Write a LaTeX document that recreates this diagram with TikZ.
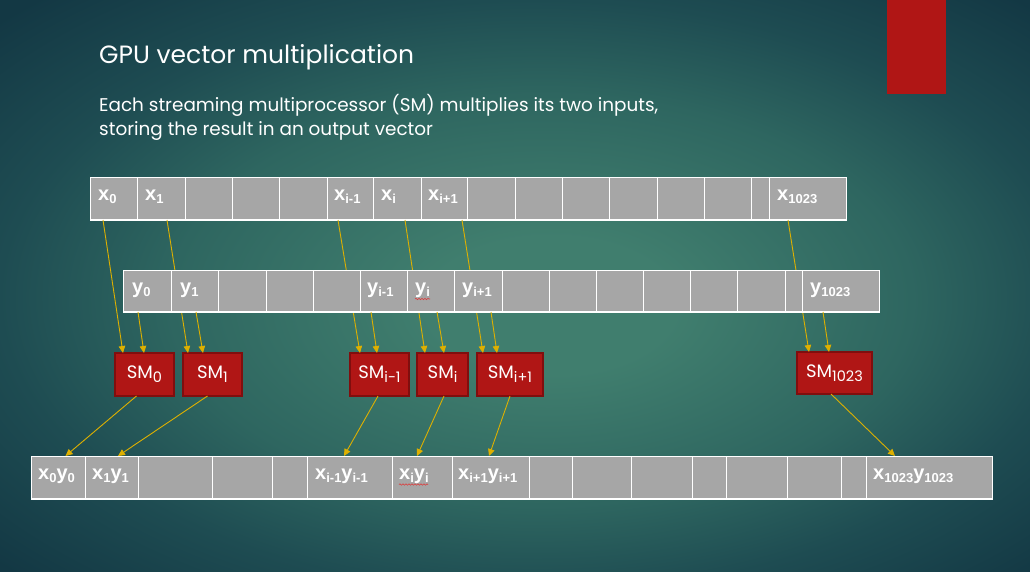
\documentclass[tikz,border=0pt]{standalone}
\usepackage{fontspec}
\setmainfont{Liberation Sans}
\newfontfamily\gothic{Poppins}
\usetikzlibrary{arrows.meta,calc,decorations.pathmorphing}

\definecolor{bgin}{RGB}{64,126,110}
\definecolor{bgmid}{RGB}{46,102,96}
\definecolor{bgedge}{RGB}{30,76,82}
\definecolor{bgout}{RGB}{19,56,68}
\definecolor{cellgray}{RGB}{166,166,166}
\definecolor{smred}{RGB}{176,22,21}
\definecolor{smborder}{RGB}{128,14,14}
\definecolor{arrowyellow}{RGB}{222,176,0}
\definecolor{spellred}{RGB}{220,60,60}

\pgfdeclareradialshading{bgshade}{\pgfpoint{2bp}{-2bp}}{color(0bp)=(bgin); color(6bp)=(bgin); color(18bp)=(bgmid); color(26bp)=(bgedge); color(35bp)=(bgout); color(50bp)=(bgout)}

\newcommand\sbx[1]{\raisebox{-3.5pt}{\fontsize{13}{14}\selectfont #1}}
\newcommand\smsub[1]{\raisebox{-4pt}{\fontsize{14.5}{15}\selectfont #1}}

\tikzset{
  cell/.style={rectangle, fill=cellgray, draw=white, line width=0.9pt, inner sep=0pt, outer sep=0pt},
  lab/.style={anchor=base west, inner sep=0pt, text=white, font=\bfseries\fontsize{20}{22}\selectfont},
  smbox/.style={rectangle, fill=smred, draw=smborder, line width=1.3pt, inner sep=0pt, outer sep=0pt, text=white, font=\gothic\fontsize{18}{20}\selectfont},
  arr/.style={draw=arrowyellow, line width=0.9pt, -{Triangle[length=7pt,width=6.5pt]}},
  strip/.style={draw=white, line width=2.2pt},
  spell/.style={draw=spellred, line width=0.6pt, decorate, decoration={snake, amplitude=0.7pt, segment length=3pt}}
}

\begin{document}
\begin{tikzpicture}[x=1pt,y=-1pt]
\useasboundingbox (0,0) rectangle (1030,571);
\shade[shading=bgshade] (0,0) rectangle (1030,571);
\fill[smred] (887,0) rectangle (946,94);

% titles
\node[anchor=base west, inner sep=0pt, text=white, font=\gothic\fontsize{25}{28}\selectfont] (title) at (99,63) {GPU vector multiplication};
\node[anchor=base west, inner sep=0pt, text=white, font=\gothic\fontsize{18.4}{21}\selectfont] (sub1) at (99,111) {Each streaming multiprocessor (SM) multiplies its two inputs,};
\node[anchor=base west, inner sep=0pt, text=white, font=\gothic\fontsize{18.4}{21}\selectfont] (sub2) at (99,135) {storing the result in an output vector};

% top row (x)
\foreach \l/\r [count=\i] in {90/137,137/185,185/232,232/279,279/327,327/373,373/421,421/467,467/515,515/562,562/609,609/657,657/704,704/751,751/769,769/846}
  \node[cell, minimum width={(\r-\l)*1pt}, minimum height=43pt] (t\i) at ({(\l+\r)/2},198.5) {};
\draw[strip] (t1.south west) -- (t16.south east);
\node[lab] (lt1) at ([xshift=8pt,yshift=-1.5pt]t1.west) {x\sbx{0}};
\node[lab] (lt2) at ([xshift=8pt,yshift=-1.5pt]t2.west) {x\sbx{1}};
\node[lab] (lt6) at ([xshift=7pt,yshift=-1.5pt]t6.west) {x\sbx{i-1}};
\node[lab] (lt7) at ([xshift=8pt,yshift=-1.5pt]t7.west) {x\sbx{i}};
\node[lab] (lt8) at ([xshift=7pt,yshift=-1.5pt]t8.west) {x\sbx{i+1}};
\node[lab] (lt16) at ([xshift=8pt,yshift=-1.5pt]t16.west) {x\sbx{1023}};

% SM boxes
\node[smbox, minimum width=59pt, minimum height=43pt] (SM0) at (144.5,374.5) {SM\smsub{0}};
\node[smbox, minimum width=59pt, minimum height=43pt] (SM1) at (212.5,374.5) {SM\smsub{1}};
\node[smbox, minimum width=59pt, minimum height=43pt] (SMim) at (379.5,374.5) {SM\smsub{i-1}};
\node[smbox, minimum width=51pt, minimum height=43pt] (SMi) at (442.5,374.5) {SM\smsub{i}};
\node[smbox, minimum width=66pt, minimum height=43pt] (SMip) at (510,374.5) {SM\smsub{i+1}};
\node[smbox, minimum width=75pt, minimum height=42pt] (SMn) at (834.5,373) {SM\smsub{1023}};

% x arrows (behind middle row)
\draw[arr] ([xshift=13pt]t1.south west) -- ([xshift=8pt]SM0.north west);
\draw[arr] ([xshift=30pt]t2.south west) -- ([xshift=5pt]SM1.north west);
\draw[arr] ([xshift=11pt]t6.south west) -- ([xshift=10pt]SMim.north west);
\draw[arr] ([xshift=32pt]t7.south west) -- ([xshift=8pt]SMi.north west);
\draw[arr] ([xshift=41pt]t8.south west) -- ([xshift=6pt]SMip.north west);
\draw[arr] ([xshift=19pt]t16.south west) -- ([xshift=12pt]SMn.north west);

% middle row (y)
\foreach \l/\r [count=\i] in {123/171,171/218,218/266,266/313,313/360,360/407,407/454,454/502,502/549,549/596,596/643,643/690,690/737,737/785,785/802,802/879}
  \node[cell, minimum width={(\r-\l)*1pt}, minimum height=42pt] (m\i) at ({(\l+\r)/2},291) {};
\draw[strip] (m1.south west) -- (m16.south east);
\node[lab] (lm1) at ([xshift=9pt,yshift=-2pt]m1.west) {y\sbx{0}};
\node[lab] (lm2) at ([xshift=9pt,yshift=-2pt]m2.west) {y\sbx{1}};
\node[lab] (lm6) at ([xshift=7pt,yshift=-2pt]m6.west) {y\sbx{i-1}};
\node[lab] (lm7) at ([xshift=8pt,yshift=-2pt]m7.west) {y\sbx{i}};
\node[lab] (lm8) at ([xshift=8pt,yshift=-2pt]m8.west) {y\sbx{i+1}};
\node[lab] (lm16) at ([xshift=8pt,yshift=-2pt]m16.west) {y\sbx{1023}};
\draw[spell] ([xshift=8pt,yshift=-8pt]m7.west) -- ([xshift=23pt,yshift=-8pt]m7.west);

% y arrows
\draw[arr] ([xshift=15pt]m1.south west) -- ([xshift=29pt]SM0.north west);
\draw[arr] ([xshift=25pt]m2.south west) -- ([xshift=20pt]SM1.north west);
\draw[arr] ([xshift=11pt]m6.south west) -- ([xshift=27pt]SMim.north west);
\draw[arr] ([xshift=30pt]m7.south west) -- ([xshift=27pt]SMi.north west);
\draw[arr] ([xshift=37pt]m8.south west) -- ([xshift=20pt]SMip.north west);
\draw[arr] ([xshift=21pt]m16.south west) -- ([xshift=32pt]SMn.north west);

% bottom row (xy)
\foreach \l/\r [count=\i] in {31/85,85/138,138/212,212/272,272/307,307/392,392/452,452/529,529/572,572/631,631/692,692/726,726/787,787/841,841/866,866/992}
  \node[cell, minimum width={(\r-\l)*1pt}, minimum height=43pt] (b\i) at ({(\l+\r)/2},477.5) {};
\draw[strip] (b1.south west) -- (b16.south east);
\node[lab] (lb1) at ([xshift=7pt,yshift=-1.5pt]b1.west) {x\sbx{0}y\sbx{0}};
\node[lab] (lb2) at ([xshift=7pt,yshift=-1.5pt]b2.west) {x\sbx{1}y\sbx{1}};
\node[lab] (lb6) at ([xshift=8pt,yshift=-1.5pt]b6.west) {x\sbx{i-1}y\sbx{i-1}};
\node[lab] (lb7) at ([xshift=7pt,yshift=-1.5pt]b7.west) {x\sbx{i}y\sbx{i}};
\node[lab] (lb8) at ([xshift=6pt,yshift=-1.5pt]b8.west) {x\sbx{i+1}y\sbx{i+1}};
\node[lab] (lb16) at ([xshift=7pt,yshift=-1.5pt]b16.west) {x\sbx{1023}y\sbx{1023}};
\draw[spell] ([xshift=7pt,yshift=-7pt]b7.west) -- ([xshift=36pt,yshift=-7pt]b7.west);

% output arrows
\draw[arr] ([xshift=21.5pt]SM0.south west) -- ([xshift=34.5pt]b1.north west);
\draw[arr] ([xshift=24.5pt]SM1.south west) -- ([xshift=33pt]b2.north west);
\draw[arr] ([xshift=28pt]SMim.south west) -- ([xshift=37pt]b6.north west);
\draw[arr] ([xshift=27pt]SMi.south west) -- ([xshift=25pt]b7.north west);
\draw[arr] ([xshift=33pt]SMip.south west) -- ([xshift=37pt]b8.north west);
\draw[arr] ([xshift=34pt]SMn.south west) -- ([xshift=29pt]b16.north west);
\end{tikzpicture}
\end{document}
